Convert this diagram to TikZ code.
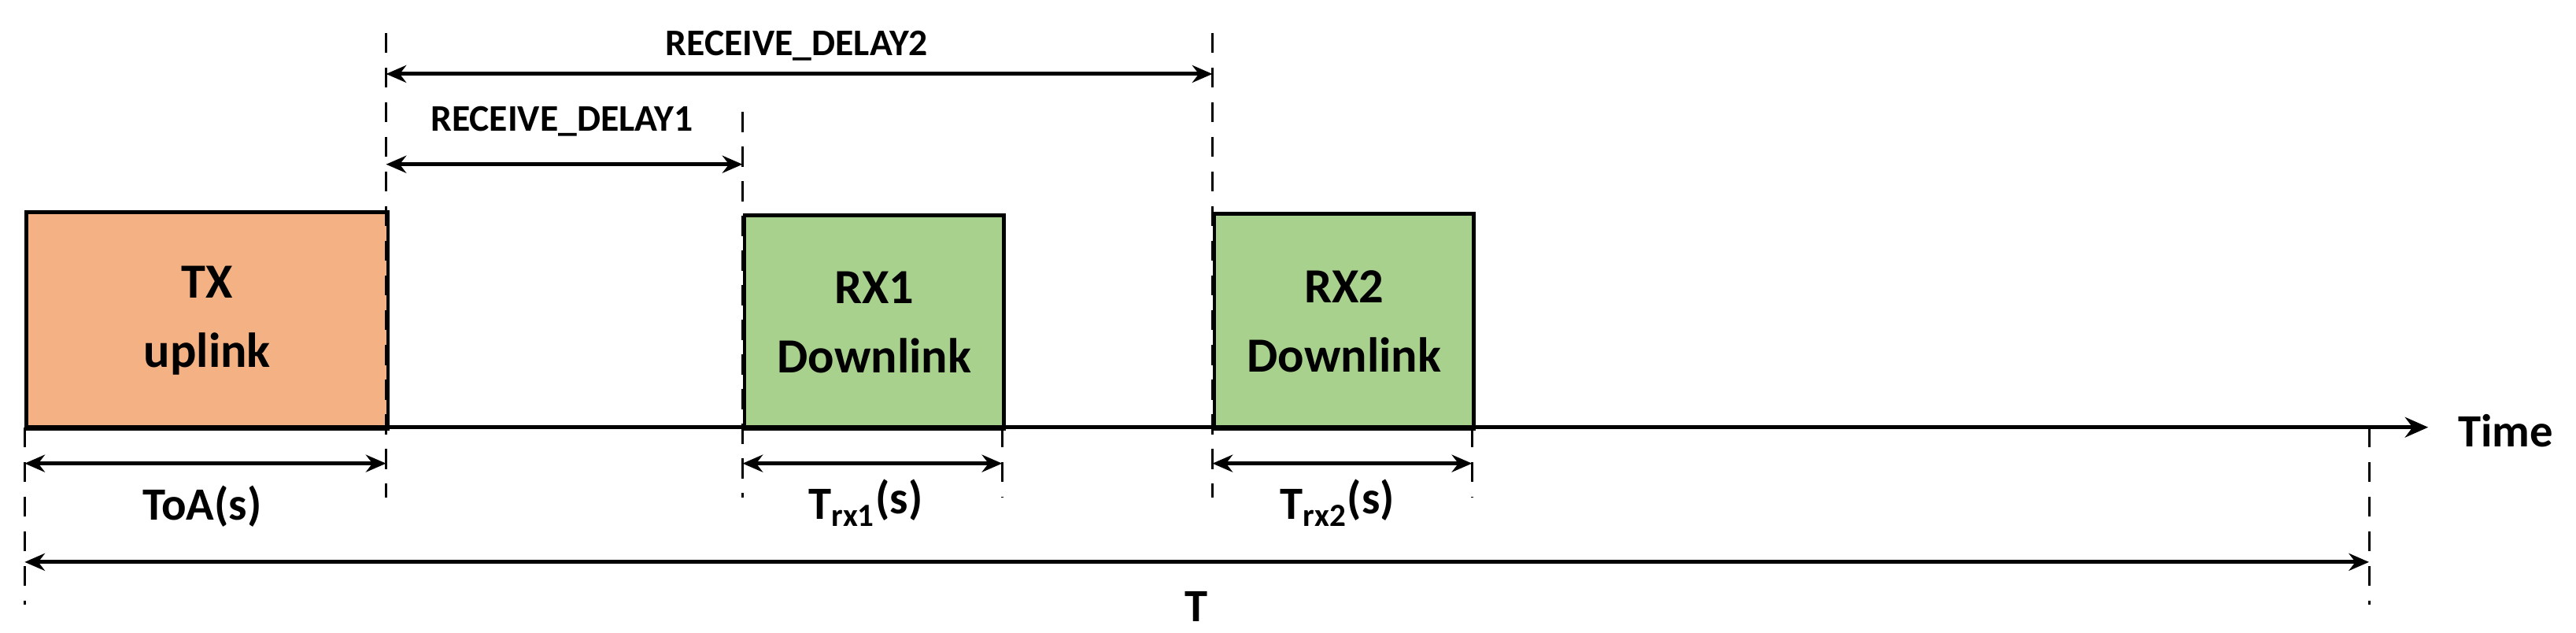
\documentclass[tikz,border=0pt]{standalone}
\usepackage{fontspec}
\setmainfont{Carlito}
\usetikzlibrary{arrows.meta}
\begin{document}
\begin{tikzpicture}[x=0.02cm,y=-0.02cm,
  blk/.style={draw=black,line width=1.3pt,anchor=north west,inner sep=0pt,align=center,font=\bfseries\fontsize{17}{24}\selectfont},
  dim/.style={line width=1.4pt,{Stealth[length=7pt,width=6pt]}-{Stealth[length=7pt,width=6pt]}},
  guide/.style={line width=0.8pt,dash pattern=on 7pt off 5pt},
  lbl/.style={font=\bfseries\fontsize{16}{18}\selectfont},
  slbl/.style={font=\bfseries\fontsize{13}{15}\selectfont}]
\useasboundingbox (0,0) rectangle (1568,385);
\node[blk,fill={rgb,255:red,244;green,177;blue,131},minimum width=220*0.02cm,minimum height=132*0.02cm] (tx) at (15,128) {TX\\uplink};
\node[blk,fill={rgb,255:red,169;green,209;blue,142},minimum width=158*0.02cm,minimum height=130*0.02cm] (rx1) at (452,130) {RX1\\Downlink};
\node[blk,fill={rgb,255:red,169;green,209;blue,142},minimum width=158*0.02cm,minimum height=131*0.02cm] (rx2) at (738,129) {RX2\\Downlink};
\coordinate (a0) at (15,260);
\coordinate (aend) at (1478,260);
\node[lbl,anchor=west] (time) at (1490,262) {Time};
\draw[line width=1.4pt,-{Stealth[length=8pt,width=7pt]}] (a0) -- (aend);
% guides
\coordinate (g1t) at (235,20); \coordinate (g1b) at (235,303);
\coordinate (g2t) at (452,68); \coordinate (g2b) at (452,303);
\coordinate (g3t) at (738,20); \coordinate (g3b) at (738,303);
\coordinate (g0t) at (15,260); \coordinate (g0b) at (15,368);
\coordinate (g4t) at (610,260); \coordinate (g4b) at (610,303);
\coordinate (g5t) at (896,260); \coordinate (g5b) at (896,303);
\coordinate (g6t) at (1442,260); \coordinate (g6b) at (1442,368);
\foreach \g in {g0,g1,g2,g3,g4,g5,g6} \draw[guide] (\g t) -- (\g b);
% dimensions
\coordinate (d2a) at (235,45); \coordinate (d2b) at (738,45);
\draw[dim] (d2a) -- (d2b);
\node[slbl] (rd2) at (485,28) {RECEIVE\_DELAY2};
\coordinate (d1a) at (235,100); \coordinate (d1b) at (452,100);
\draw[dim] (d1a) -- (d1b);
\node[slbl] (rd1) at (342,74) {RECEIVE\_DELAY1};
\coordinate (t0a) at (15,282); \coordinate (t0b) at (235,282);
\draw[dim] (t0a) -- (t0b);
\node[lbl] (toa) at (123,308) {ToA(s)};
\coordinate (t1a) at (452,282); \coordinate (t1b) at (610,282);
\draw[dim] (t1a) -- (t1b);
\node[lbl] (trx1) at (527,306) {T\textsubscript{rx1}\raisebox{2pt}{(s)}};
\coordinate (t2a) at (738,282); \coordinate (t2b) at (896,282);
\draw[dim] (t2a) -- (t2b);
\node[lbl] (trx2) at (814,306) {T\textsubscript{rx2}\raisebox{2pt}{(s)}};
\coordinate (ta) at (15,342); \coordinate (tb) at (1442,342);
\draw[dim] (ta) -- (tb);
\node[lbl] (T) at (728,369) {T};
\end{tikzpicture}
\end{document}
